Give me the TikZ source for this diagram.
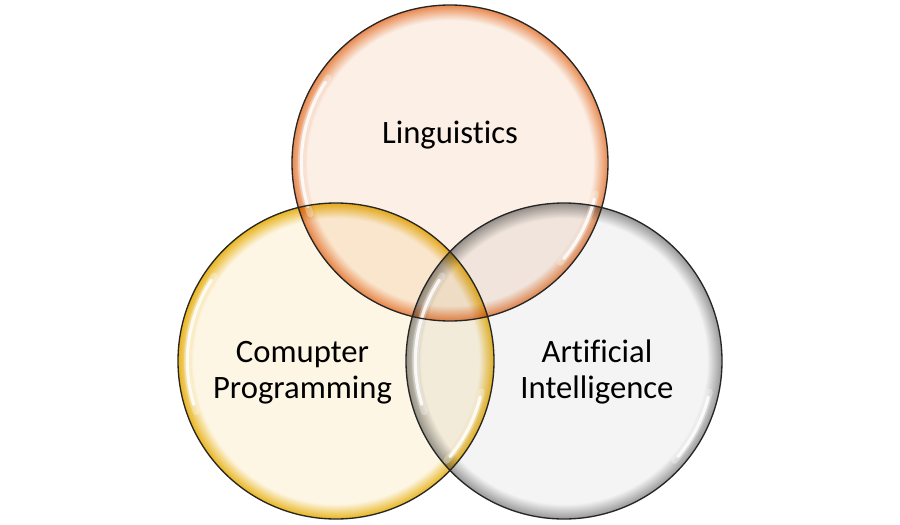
\documentclass[tikz,border=0pt]{standalone}
\usepackage{fontspec}
\setmainfont{Carlito}[Ligatures=NoCommon]
\definecolor{lingfill}{HTML}{FBEFE6}
\definecolor{lingrim}{HTML}{E8884E}
\definecolor{progfill}{HTML}{FDF6E4}
\definecolor{progrim}{HTML}{E8B41E}
\definecolor{aifill}{HTML}{F4F4F4}
\definecolor{airim}{HTML}{979797}
\pgfdeclareradialshading{lingshade}{\pgfpoint{0bp}{0bp}}{color(0bp)=(lingfill); color(22.6bp)=(lingfill); color(25bp)=(lingrim); color(50bp)=(lingrim)}
\pgfdeclareradialshading{progshade}{\pgfpoint{0bp}{0bp}}{color(0bp)=(progfill); color(22.6bp)=(progfill); color(25bp)=(progrim); color(50bp)=(progrim)}
\pgfdeclareradialshading{aishade}{\pgfpoint{0bp}{0bp}}{color(0bp)=(aifill); color(22.6bp)=(aifill); color(25bp)=(airim); color(50bp)=(airim)}
\tikzset{
  ring/.style={circle, minimum size=237pt, inner sep=0pt, outer sep=0pt},
  outline/.style={draw=black!85, line width=1pt},
  hl/.style={draw=white, line width=2.4pt, line cap=round, opacity=0.85},
  hlsoft/.style={draw=white, line width=5pt, line cap=round, opacity=0.3},
  label/.style={font=\fontsize{24.5}{27}\selectfont, text=black, inner sep=0pt, align=center}
}
\begin{document}
\begin{tikzpicture}[x=0.75pt, y=-0.75pt]
\useasboundingbox (0,0) rectangle (900,525);
\fill[white] (0,0) rectangle (900,525);
\begin{scope}[blend mode=multiply]
  \node[ring, shading=lingshade] (ling) at (450,163) {};
  \node[ring, shading=progshade] (prog) at (336,361) {};
  \node[ring, shading=aishade] (ai) at (564,361) {};
\end{scope}
% glossy highlights
\foreach \c in {ling, prog, ai} {
  \draw[hlsoft] ([shift={(145:111.5pt)}]\c.center) arc[start angle=145, end angle=200, radius=111.5pt];
  \draw[hl] ([shift={(147:111.5pt)}]\c.center) arc[start angle=147, end angle=197, radius=111.5pt];
  \draw[hlsoft] ([shift={(-12:111.5pt)}]\c.center) arc[start angle=-12, end angle=-42, radius=111.5pt];
  \draw[hl] ([shift={(-14:111.5pt)}]\c.center) arc[start angle=-14, end angle=-40, radius=111.5pt];
}
\draw[outline] (ling.center) circle[radius=118.5pt];
\draw[outline] (prog.center) circle[radius=118.5pt];
\draw[outline] (ai.center) circle[radius=118.5pt];
\node[label, anchor=base] (tling) at (450,143) {Linguistics};
\node[label] (tprog) at (302.5,373) {Comupter\\Programming};
\node[label] (tai) at (597,372) {Artificial\\Intelligence};
\end{tikzpicture}
\end{document}
